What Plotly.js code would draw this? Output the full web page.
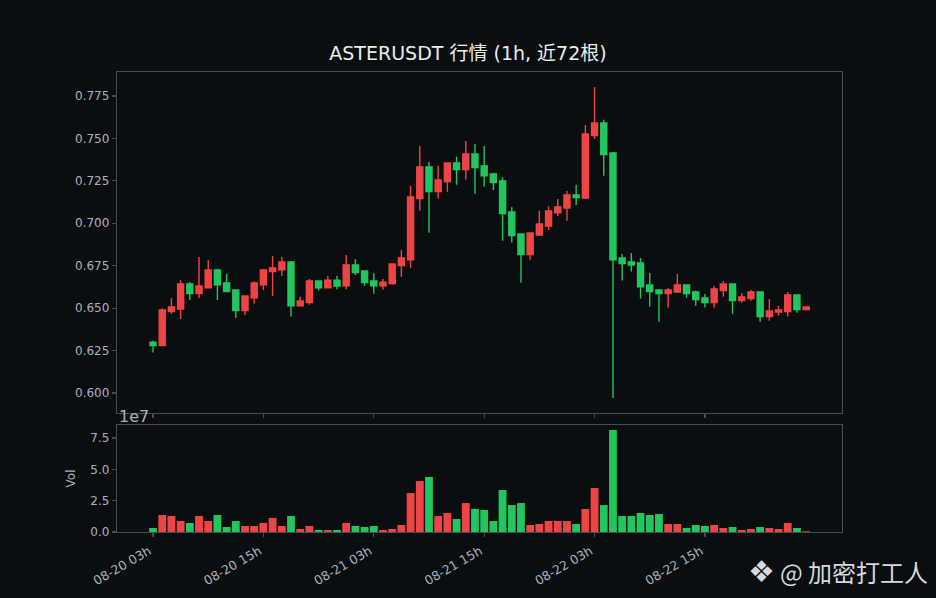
<!DOCTYPE html>
<html>
<head>
<meta charset="utf-8">
<script src="https://cdn.plot.ly/plotly-3.0.1.min.js"></script>
<style>
html,body{margin:0;padding:0;background:#0b0e11;}
#chart{width:936px;height:598px;}
</style>
</head>
<body>
<div id="chart"></div>
<script>
// ---- data ----
const startTime = '2025-08-20T03:00:00';
const opens = [0.6299,0.6280,0.6479,0.6495,0.6642,0.6585,0.6620,0.6725,0.6648,0.6607,
  0.6485,0.6561,0.6638,0.6715,0.6725,0.6772,0.6514,0.6532,0.6660,0.6620,
  0.6664,0.6632,0.6754,0.6719,0.6660,0.6632,0.6644,0.6750,0.6785,0.7145,
  0.7332,0.7186,0.7245,0.7355,0.7316,0.7408,0.7338,0.7290,0.7249,0.7066,
  0.6937,0.6815,0.6931,0.6984,0.7061,0.7090,0.7167,0.7149,0.7516,0.7591,
  0.7414,0.6795,0.6772,0.6766,0.6636,0.6607,0.6585,0.6595,0.6636,0.6595,
  0.6560,0.6532,0.6603,0.6642,0.6544,0.6556,0.6595,0.6450,0.6477,0.6479,
  0.6577,0.6491];
const highs = [0.6308,0.6499,0.6560,0.6666,0.6654,0.6801,0.6784,0.6731,0.6703,0.6610,
  0.6573,0.6656,0.6731,0.6807,0.6801,0.6778,0.6567,0.6672,0.6662,0.6689,
  0.6689,0.6813,0.6789,0.6720,0.6705,0.6672,0.6762,0.6843,0.7220,0.7455,
  0.7361,0.7338,0.7357,0.7391,0.7485,0.7467,0.7455,0.7298,0.7271,0.7096,
  0.6940,0.6945,0.7074,0.7098,0.7143,0.7190,0.7226,0.7579,0.7803,0.7609,
  0.7420,0.6819,0.6825,0.6795,0.6707,0.6610,0.6619,0.6701,0.6638,0.6603,
  0.6583,0.6630,0.6660,0.6645,0.6589,0.6607,0.6597,0.6554,0.6513,0.6595,
  0.6580,0.6510];
const lows = [0.6238,0.6278,0.6467,0.6436,0.6548,0.6560,0.6615,0.6548,0.6595,0.6442,
  0.6460,0.6526,0.6607,0.6571,0.6689,0.6450,0.6512,0.6520,0.6603,0.6615,
  0.6611,0.6611,0.6695,0.6632,0.6585,0.6609,0.6638,0.6685,0.6738,0.7074,
  0.6944,0.7145,0.7186,0.7227,0.7257,0.7174,0.7216,0.7196,0.6897,0.6886,
  0.6650,0.6785,0.6925,0.6960,0.7043,0.7014,0.7108,0.7143,0.7497,0.7280,
  0.5970,0.6662,0.6715,0.6556,0.6508,0.6420,0.6503,0.6589,0.6561,0.6514,
  0.6503,0.6503,0.6567,0.6467,0.6532,0.6544,0.6420,0.6426,0.6455,0.6450,
  0.6473,0.6488];
const closes = [0.6280,0.6489,0.6507,0.6642,0.6585,0.6630,0.6725,0.6638,0.6597,0.6485,
  0.6571,0.6648,0.6725,0.6736,0.6772,0.6514,0.6542,0.6660,0.6620,0.6664,
  0.6630,0.6754,0.6709,0.6650,0.6632,0.6652,0.6760,0.6795,0.7155,0.7332,
  0.7186,0.7255,0.7355,0.7316,0.7408,0.7328,0.7280,0.7239,0.7057,0.6927,
  0.6815,0.6943,0.6996,0.7072,0.7096,0.7167,0.7151,0.7526,0.7591,0.7404,
  0.6785,0.6762,0.6754,0.6626,0.6597,0.6585,0.6607,0.6636,0.6585,0.6550,
  0.6532,0.6613,0.6642,0.6544,0.6566,0.6595,0.6450,0.6483,0.6489,0.6577,
  0.6491,0.6507];
const volumes = [0.32e7,1.36e7,1.28e7,0.88e7,0.72e7,1.28e7,0.88e7,1.36e7,0.40e7,0.88e7,
  0.48e7,0.48e7,0.72e7,1.12e7,0.48e7,1.28e7,0.24e7,0.48e7,0.16e7,0.16e7,
  0.16e7,0.72e7,0.48e7,0.40e7,0.48e7,0.16e7,0.24e7,0.56e7,3.11e7,4.07e7,
  4.39e7,1.28e7,1.52e7,1.04e7,2.31e7,1.84e7,1.76e7,0.88e7,3.35e7,2.15e7,
  2.31e7,0.56e7,0.64e7,0.88e7,0.88e7,0.88e7,0.64e7,1.84e7,3.51e7,2.15e7,
  8.14e7,1.28e7,1.28e7,1.52e7,1.36e7,1.44e7,0.64e7,0.64e7,0.32e7,0.56e7,
  0.48e7,0.56e7,0.32e7,0.40e7,0.16e7,0.24e7,0.40e7,0.32e7,0.24e7,0.72e7,
  0.32e7,0.06e7];
const xTickVals = ['2025-08-20 03:00','2025-08-20 15:00','2025-08-21 03:00',
  '2025-08-21 15:00','2025-08-22 03:00','2025-08-22 15:00'];
const xTickText = ['08-20 03h','08-20 15h','08-21 03h','08-21 15h','08-22 03h','08-22 15h'];
const volTickVals = [0, 2.5e7, 5e7, 7.5e7];
const volTickText = ['0.0', '2.5', '5.0', '7.5'];
const titleText = 'ASTERUSDT 行情 (1h, 近72根)';
const watermarkLogo = '❖';
const watermarkText = '@ 加密打工人';

// ---- styling ----
const UP = '#ef4444', DOWN = '#22c55e';
const BG = '#0b0e11', FRAME = '#474d57', TXT = '#aab1bc';
const HOUR = 3600000;

const t0 = new Date(startTime + 'Z').getTime();
const times = opens.map((_, i) => new Date(t0 + i * HOUR).toISOString().slice(0, 19).replace('T', ' '));
const volColors = closes.map((c, i) => c >= opens[i] ? UP : DOWN);

const candle = {
  type: 'candlestick', x: times, open: opens, high: highs, low: lows, close: closes,
  xaxis: 'x', yaxis: 'y',
  increasing: {line: {color: UP, width: 1.4}, fillcolor: UP},
  decreasing: {line: {color: DOWN, width: 1.4}, fillcolor: DOWN},
  whiskerwidth: 0, showlegend: false, hoverinfo: 'skip'
};
const vol = {
  type: 'bar', x: times, y: volumes, xaxis: 'x2', yaxis: 'y2',
  marker: {color: volColors, line: {width: 0}}, width: 0.85 * HOUR,
  showlegend: false, hoverinfo: 'skip'
};

const xRange = ['2025-08-19 23:05', '2025-08-23 05:54'];
const axisCommon = {
  showline: true, linecolor: FRAME, linewidth: 1.2, mirror: true,
  showgrid: false, zeroline: false,
  ticks: 'outside', ticklen: 4, tickwidth: 1.2, tickcolor: FRAME,
  tickfont: {family: 'DejaVu Sans', size: 12, color: TXT}
};

const layout = {
  width: 936, height: 598,
  paper_bgcolor: BG, plot_bgcolor: BG,
  margin: {l: 117, r: 94, t: 72, b: 66},
  font: {family: 'DejaVu Sans', color: TXT},
  title: {text: titleText, x: 0.5, xanchor: 'center', y: 0.91, yanchor: 'middle',
    font: {family: 'DejaVu Sans, Noto Sans CJK SC', size: 19, color: '#eaecef'}},
  boxgap: 0.06,
  xaxis: Object.assign({}, axisCommon, {
    type: 'date', domain: [0, 1], anchor: 'y', range: xRange,
    tickmode: 'array', tickvals: xTickVals, ticktext: xTickText, showticklabels: false,
    rangeslider: {visible: false}
  }),
  yaxis: Object.assign({}, axisCommon, {
    domain: [0.2587, 1], anchor: 'x', range: [0.5882, 0.7891],
    dtick: 0.025, tick0: 0, tickformat: '.3f'
  }),
  xaxis2: Object.assign({}, axisCommon, {
    type: 'date', domain: [0, 1], anchor: 'y2', matches: 'x', range: xRange,
    tickmode: 'array', tickvals: xTickVals, ticktext: xTickText,
    tickangle: -30, ticklabelshift: -4, ticklabelstandoff: 2,
    tickfont: {family: 'DejaVu Sans', size: 12.5, color: TXT}
  }),
  yaxis2: Object.assign({}, axisCommon, {
    domain: [0, 0.2326], anchor: 'x2', range: [0, 8.54e7],
    tickmode: 'array', tickvals: volTickVals, ticktext: volTickText,
    title: {text: 'Vol', standoff: 12, font: {family: 'DejaVu Sans', size: 12, color: TXT}}
  }),
  annotations: [
    {text: '1e7', xref: 'paper', yref: 'paper', x: 0, y: 0.2326, xanchor: 'left', yanchor: 'bottom',
      yshift: -3, showarrow: false, font: {family: 'DejaVu Sans', size: 16, color: TXT}},
    {text: watermarkLogo, xref: 'paper', yref: 'paper', x: 1, y: 0, xanchor: 'center', yanchor: 'middle',
      xshift: -81, yshift: -39, showarrow: false,
      font: {family: 'DejaVu Sans', size: 30, color: '#d5d8dc'}},
    {text: watermarkText, xref: 'paper', yref: 'paper', x: 1, y: 0, xanchor: 'right', yanchor: 'middle',
      xshift: 88, yshift: -39, showarrow: false,
      font: {family: 'Noto Sans CJK SC, DejaVu Sans', size: 24, color: '#d5d8dc'}}
  ]
};

Plotly.newPlot('chart', [candle, vol], layout, {displayModeBar: false, staticPlot: true});
</script>
</body>
</html>
